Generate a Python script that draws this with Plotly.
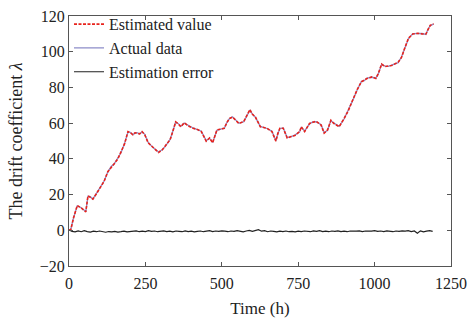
import plotly.graph_objects as go

# Drift coefficient trajectory (hours vs. lambda)
time_h = [0, 6, 15, 27, 40, 55, 62, 70, 78, 90, 105, 115, 127, 138, 148, 160, 170, 182,
          193, 200, 209, 216, 223, 231, 239, 248, 259, 275, 293, 305, 315, 331, 340, 349,
          358, 366, 377, 390, 406, 420, 433, 449, 460, 470, 484, 496, 508, 516, 524, 535,
          546, 556, 572, 583, 592, 599, 610, 626, 648, 664, 677, 683, 690, 701, 714, 727,
          739, 755, 760, 771, 787, 798, 809, 825, 835, 846, 857, 867, 884, 900, 914, 927,
          943, 957, 966, 975, 991, 1004, 1012, 1023, 1034, 1045, 1056, 1077, 1088, 1099,
          1111, 1125, 1141, 1155, 1168, 1174, 1182, 1193]

estimated = [0.0, 0.5, 7.0, 13.9, 12.5, 10.3, 19.3, 18.6, 17.5, 20.5, 24.7, 27.5, 32.8,
             35.5, 37.3, 40.0, 43.6, 48.5, 55.3, 54.8, 53.5, 54.6, 54.4, 54.0, 55.3, 53.5,
             49.0, 46.5, 43.6, 45.0, 47.2, 50.8, 55.5, 60.7, 59.5, 58.0, 60.2, 58.5, 57.1,
             56.5, 55.3, 49.9, 51.7, 49.0, 56.2, 56.5, 57.1, 60.0, 62.5, 63.4, 61.5, 59.8,
             61.0, 64.3, 67.6, 65.2, 63.4, 58.0, 57.1, 55.3, 49.9, 54.0, 57.1, 57.1, 51.7,
             52.5, 53.1, 55.3, 58.0, 55.3, 59.8, 60.5, 61.0, 58.9, 54.4, 56.2, 61.6, 59.8,
             58.0, 62.5, 67.0, 72.4, 78.8, 83.2, 84.0, 85.0, 85.9, 85.0, 87.7, 93.1, 91.7,
             92.0, 92.3, 94.1, 96.8, 102.2, 107.6, 109.9, 110.3, 110.0, 109.9, 112.1, 114.8,
             115.7]

actual = [0.0, 0.6, 7.1, 13.7, 12.6, 10.5, 19.1, 18.8, 17.4, 20.7, 24.5, 27.6, 32.6,
          35.7, 37.2, 40.2, 43.4, 48.7, 55.1, 54.9, 53.6, 54.4, 54.6, 53.9, 55.1, 53.7,
          49.2, 46.3, 43.8, 45.1, 47.0, 50.9, 55.3, 60.5, 59.7, 58.2, 60.0, 58.6, 57.3,
          56.4, 55.5, 50.1, 51.5, 49.2, 56.0, 56.7, 57.0, 60.2, 62.3, 63.5, 61.3, 59.9,
          60.8, 64.5, 67.4, 65.3, 63.2, 58.2, 57.0, 55.5, 50.1, 53.8, 57.0, 57.3, 51.9,
          52.4, 53.3, 55.1, 57.8, 55.5, 59.6, 60.7, 60.8, 59.1, 54.6, 56.0, 61.4, 60.0,
          58.2, 62.3, 67.2, 72.2, 78.6, 83.4, 83.8, 85.2, 85.7, 85.2, 87.5, 92.9, 91.9,
          91.8, 92.5, 93.9, 97.0, 102.0, 107.4, 110.1, 110.1, 110.2, 109.7, 112.3, 114.6,
          115.5]

# Estimation error sampled every 10 h
error_time = list(range(0, 1200, 10))
error = [0.2, -0.6, -0.9, -0.3, -0.8, -0.2, -0.7, -1.0, -0.5, -0.8, -0.4, -0.9, -1.1, -0.7,
         -0.9, -0.6, -1.0, -0.8, -0.5, -0.9, -0.7, -0.6, -0.3, -0.8, -0.5, -0.7, -0.2, -0.6,
         -0.4, -0.8, -0.6, -0.3, -0.7, -0.5, -0.9, -0.4, -0.6, -0.8, -0.3, -0.7, -0.5, -0.9,
         -0.6, -0.4, -0.8, -0.5, -0.2, -0.7, -0.4, -0.6, -0.3, -0.5, -0.8, -0.4, -0.6, -0.2,
         -0.5, -0.9, -0.4, -0.1, -0.6, -0.3, 0.3, -0.5, -0.2, -0.8, -0.4, -0.6, -0.9, -0.5,
         -0.7, -0.4, -0.8, -0.6, -0.9, -0.5, -0.7, -0.4, -0.6, -0.8, -0.3, -0.6, -0.2, -0.7,
         -0.5, -0.8, -0.4, -0.6, -0.3, -0.7, -0.5, -0.8, -0.4, -0.6, -0.5, -0.3, -0.7, -0.4,
         -0.6, -0.5, -0.2, -0.6, -0.4, -0.7, -0.3, -0.5, -0.8, -0.4, -0.6, -0.3, -0.5, -0.2,
         -0.7, -0.4, -1.6, -0.3, -0.9, -0.5, -0.2, -0.6]

fig = go.Figure()
# Drawing order: actual underneath, error, estimate on top
fig.add_trace(go.Scatter(x=time_h, y=actual, mode="lines", name="Actual data",
                         legendrank=2, line=dict(color="#8c8cc8", width=1.3)))
fig.add_trace(go.Scatter(x=error_time, y=error, mode="lines", name="Estimation error",
                         legendrank=3, line=dict(color="#202020", width=1.2)))
fig.add_trace(go.Scatter(x=time_h, y=estimated, mode="lines", name="Estimated value",
                         legendrank=1, line=dict(color="#e8231c", width=1.6, dash="3px,1.5px")))

serif = "Liberation Serif"
axis_common = dict(showgrid=False, zeroline=False, showline=True, linecolor="#555555",
                   linewidth=1, mirror="ticks", ticks="inside", ticklen=4,
                   tickcolor="#555555", ticklabeloverflow="allow",
                   tickfont=dict(family=serif, size=16, color="#222"))

fig.update_layout(
    width=474, height=322,
    margin=dict(l=69, r=17, t=7, b=56),
    paper_bgcolor="white", plot_bgcolor="white",
    font=dict(family=serif, size=16, color="#222"),
    showlegend=True,
    legend=dict(x=0.0, y=1.035, xanchor="left", yanchor="top",
                bgcolor="rgba(0,0,0,0)", font=dict(family=serif, size=16, color="#222"),
                itemwidth=30, tracegroupgap=0),
    xaxis=dict(range=[0, 1250], tickvals=[0, 250, 500, 750, 1000, 1250],
               ticklabelstandoff=3,
               title=dict(text="Time (h)", font=dict(family=serif, size=17), standoff=10),
               **axis_common),
    yaxis=dict(range=[-20, 120], tickvals=[-20, 0, 20, 40, 60, 80, 100, 120],
               title=dict(text="The drift coefficient <i>λ</i>", font=dict(family=serif, size=18),
                          standoff=12),
               **axis_common),
)

fig.write_html("out.html")
